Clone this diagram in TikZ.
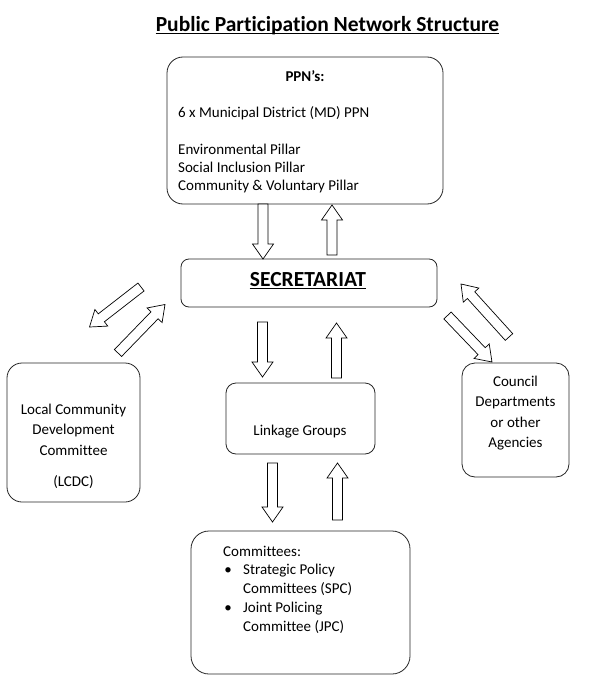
\documentclass[tikz,border=0pt]{standalone}
\usepackage{fontspec}
\setmainfont{Carlito}[Ligatures=NoCommon]
\usetikzlibrary{calc}
\tikzset{
  box/.style={draw=black!85, line width=0.8pt, rectangle, inner sep=0pt, outer sep=0pt},
  blk/.style={draw=black, line width=0.7pt, fill=white, line join=miter},
  txt/.style={font=\fontsize{15}{18}\selectfont, inner sep=0pt},
  bigb/.style={font=\fontsize{21.5}{25}\selectfont\bfseries, inner sep=0pt},
}
\newcommand\blockarr[2]{%
  \coordinate (hb) at ($(#2)!15pt!(#1)$);
  \draw[blk] ($(#1)!5pt!90:(#2)$) -- ($(hb)!5pt!90:(#2)$) -- ($(hb)!10.5pt!90:(#2)$) -- (#2)
     -- ($(hb)!10.5pt!-90:(#2)$) -- ($(hb)!5pt!-90:(#2)$) -- ($(#1)!5pt!-90:(#2)$) -- cycle;
}
\begin{document}
\begin{tikzpicture}[x=1pt,y=-1pt]
\fill[white] (0,0) rectangle (592,693);
\useasboundingbox (0,0) rectangle (592,693);

% title
\node[bigb, anchor=base] (title) at (327.5,31.5) {Public Participation Network Structure};
\draw[line width=1pt] ($(title.base west)+(0,2.2)$) -- ($(title.base east)+(0,2.2)$);

% boxes
\node[box, rounded corners=16pt, minimum width=276pt, minimum height=147pt] (ppn) at (305,130.5) {};
\node[box, rounded corners=8pt, minimum width=256pt, minimum height=48pt] (sec) at (309,283) {};
\node[box, rounded corners=10pt, minimum width=149pt, minimum height=71pt] (link) at (300.5,418.5) {};
\node[box, rounded corners=18pt, minimum width=219pt, minimum height=143pt] (comm) at (300.5,602.5) {};
\node[box, rounded corners=15pt, minimum width=133pt, minimum height=139pt] (lcdc) at (73.5,432.5) {};
\node[box, rounded corners=13pt, minimum width=107pt, minimum height=114pt] (coun) at (515.5,420) {};

% PPN texts
\node[txt, font=\fontsize{15}{18}\selectfont\bfseries, anchor=mid] (ppnh) at (305,79) {PPN’s:};
\node[txt, anchor=mid west] (p1) at (178,115.5) {6 x Municipal District (MD) PPN};
\node[txt, anchor=mid west] (p2) at (178,152.5) {Environmental Pillar};
\node[txt, anchor=mid west] (p3) at (178,170.5) {Social Inclusion Pillar};
\node[txt, anchor=mid west] (p4) at (178,188.5) {Community \& Voluntary Pillar};

% Secretariat
\node[bigb, anchor=base] (sect) at (308,286.5) {SECRETARIAT};
\draw[line width=1pt] ($(sect.base west)+(0,2.2)$) -- ($(sect.base east)+(0,2.2)$);

% Linkage
\node[txt, anchor=mid] (lt) at (300,433.5) {Linkage Groups};

% Committees
\node[txt, anchor=mid west] (c0) at (223,554.5) {Committees:};
\node[txt, anchor=mid] (b1) at (228,572.5) {•};
\node[txt, anchor=mid west] (c1) at (243,572.5) {Strategic Policy};
\node[txt, anchor=mid west] (c2) at (243,591.5) {Committees (SPC)};
\node[txt, anchor=mid] (b2) at (228,610.5) {•};
\node[txt, anchor=mid west] (c3) at (243,610.5) {Joint Policing};
\node[txt, anchor=mid west] (c4) at (243,629.5) {Committee (JPC)};

% LCDC
\node[txt, anchor=mid] (l1) at (73.5,412.5) {Local Community};
\node[txt, anchor=mid] (l2) at (73.5,432.5) {Development};
\node[txt, anchor=mid] (l3) at (73.5,453.5) {Committee};
\node[txt, anchor=mid] (l4) at (73.5,484.5) {(LCDC)};

% Council
\node[txt, anchor=mid] (k1) at (515.5,384.5) {Council};
\node[txt, anchor=mid] (k2) at (515.5,404.5) {Departments};
\node[txt, anchor=mid] (k3) at (515.5,425.5) {or other};
\node[txt, anchor=mid] (k4) at (515.5,445.5) {Agencies};

% arrow end points
\coordinate (a1t) at (263,204); \coordinate (a1h) at (263,259);
\coordinate (a2t) at (332,255); \coordinate (a2h) at (332,205);
\coordinate (a3t) at (262.5,322); \coordinate (a3h) at (262.5,377);
\coordinate (a4t) at (336.5,378); \coordinate (a4h) at (336.5,323);
\coordinate (a5t) at (272.5,463); \coordinate (a5h) at (272.5,522);
\coordinate (a6t) at (337.5,520); \coordinate (a6h) at (337.5,463);
\coordinate (d1t) at (141,287); \coordinate (d1h) at (89.5,327);
\coordinate (d2t) at (118,353); \coordinate (d2h) at (165,304.5);
\coordinate (d3t) at (509,337); \coordinate (d3h) at (461,284);
\coordinate (d4t) at (447.5,315.5); \coordinate (d4h) at (492,362);

\blockarr{a1t}{a1h}
\blockarr{a2t}{a2h}
\blockarr{a3t}{a3h}
\blockarr{a4t}{a4h}
\blockarr{a5t}{a5h}
\blockarr{a6t}{a6h}
\blockarr{d1t}{d1h}
\blockarr{d2t}{d2h}
\blockarr{d3t}{d3h}
\blockarr{d4t}{d4h}
\end{tikzpicture}
\end{document}
